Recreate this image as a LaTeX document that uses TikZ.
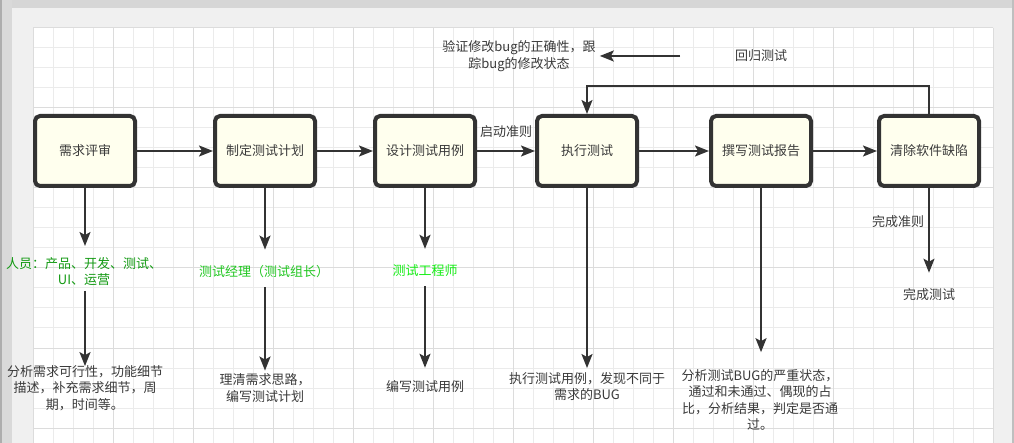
\documentclass[tikz,border=0pt]{standalone}
\usepackage{fontspec}
\setmainfont{Noto Sans CJK SC}
\usetikzlibrary{arrows.meta}
\definecolor{ln}{HTML}{333333}
\definecolor{tx}{HTML}{3A3A3A}
\definecolor{boxfill}{HTML}{FFFFEE}
\definecolor{gminor}{HTML}{EBEBEB}
\definecolor{gmajor}{HTML}{DCDCDC}
\definecolor{frame}{HTML}{F0F0F0}
\definecolor{gA}{HTML}{139A13}
\definecolor{gB}{HTML}{22C722}
\definecolor{gC}{HTML}{14EE14}
\tikzset{
  stepbox/.style={draw=ln, line width=4pt, fill=boxfill, rounded corners=5pt,
    minimum width=100pt, minimum height=70pt, inner sep=0pt,
    font=\fontsize{13pt}{16pt}\selectfont, text=tx},
  txt/.style={align=center, inner sep=0pt, text=tx,
    font=\fontsize{13pt}{16.5pt}\selectfont},
  arr/.style={draw=ln, line width=2pt,
    -{Stealth[length=14pt,width=11pt,inset=3pt]}},
  plain/.style={draw=ln, line width=2pt},
}
\begin{document}
\begin{tikzpicture}[x=1pt,y=-1pt]
% ---- background / frame ----
\useasboundingbox (0,0) rectangle (1014,443);
\fill[frame] (0,0) rectangle (1014,443);
\fill[black!16] (0,0) rectangle (1014,8);
\fill[black!15] (0,0) rectangle (12,443);
\fill[black!32] (0,0) rectangle (2,443);
\fill[black!25] (1012,0) rectangle (1014,443);
\fill[white] (33,28) rectangle (993,443);
\foreach \x in {33,53,...,993} \draw[gminor, line width=1pt] (\x,28) -- (\x,443);
\foreach \y in {28,48,...,443} \draw[gminor, line width=1pt] (33,\y) -- (993,\y);
\foreach \x in {33,113,...,993} \draw[gmajor, line width=1pt] (\x,28) -- (\x,443);
\foreach \y in {28,108,...,443} \draw[gmajor, line width=1pt] (33,\y) -- (993,\y);

% ---- process boxes ----
\node[stepbox] (b1) at (85,151) {需求评审};
\node[stepbox] (b2) at (265,151) {制定测试计划};
\node[stepbox] (b3) at (425,151) {设计测试用例};
\node[stepbox] (b4) at (587,151) {执行测试};
\node[stepbox] (b5) at (761,151) {撰写测试报告};
\node[stepbox] (b6) at (929,151) {清除软件缺陷};

% ---- labels ----
\node[txt, text=gA] (l1) at (84,271.5) {人员：产品、开发、测试、\\UI、运营};
\node[txt, text=gB] (l2) at (264,272) {测试经理（测试组长）};
\node[txt, text=gC] (l3) at (425,271) {测试工程师};

\node[txt] (t1) at (85,388) {分析需求可行性，功能细节\\描述，补充需求细节，周\\期，时间等。};
\node[txt] (t2) at (265,388) {理清需求思路，\\编写测试计划};
\node[txt] (t3) at (425,387) {编写测试用例};
\node[txt] (t4) at (587,386.5) {执行测试用例，发现不同于\\需求的BUG};
\node[txt] (t5) at (760,400) {分析测试BUG的严重状态，\\通过和未通过、偶现的占\\比，分析结果，判定是否通\\过。};
\node[txt] (done) at (929,295) {完成测试};
\node[txt] (crit) at (898,222) {完成准则};
\node[txt] (start) at (506,132) {启动准则};
\node[txt] (reg) at (761,56) {回归测试};
\node[txt] (vt) at (519,56) {验证修改bug的正确性，跟\\踪bug的修改状态};

% ---- horizontal flow ----
\draw[arr] (b1) -- (b2);
\draw[arr] (b2) -- (b3);
\draw[arr] (b3) -- (b4);
\draw[arr] (b4) -- (b5);
\draw[arr] (b5) -- (b6);

% ---- vertical flows ----
\draw[arr, shorten >=11pt] (b1.south) -- (b1.south |- l1.north);
\draw[arr, shorten <=5pt, shorten >=-1pt] (b1.south |- l1.south) -- (b1.south |- t1.north);
\draw[arr, shorten >=16pt] (b2.south) -- (b2.south |- l2.north);
\draw[arr, shorten <=9pt, shorten >=3pt] (b2.south |- l2.south) -- (b2.south |- t2.north);
\draw[arr, shorten >=16pt] (b3.south) -- (b3.south |- l3.north);
\draw[arr, shorten <=9pt, shorten >=13pt] (b3.south |- l3.south) -- (b3.south |- t3.north);
\draw[arr, shorten >=4pt] (b4.south) -- (b4.south |- t4.north);
\draw[arr, shorten >=17pt] (b5.south) -- (b5.south |- t5.north);
\draw[arr, shorten >=16pt] (b6.south) -- (done.north);

% ---- regression loop ----
\coordinate (loopy) at (0,86);
\draw[arr] (b6.north) -- (b6.north |- loopy) -| (b4.north);
\coordinate (rs) at (680,56);
\draw[arr, shorten >=4pt] (rs) -- (vt.east);
\end{tikzpicture}
\end{document}
